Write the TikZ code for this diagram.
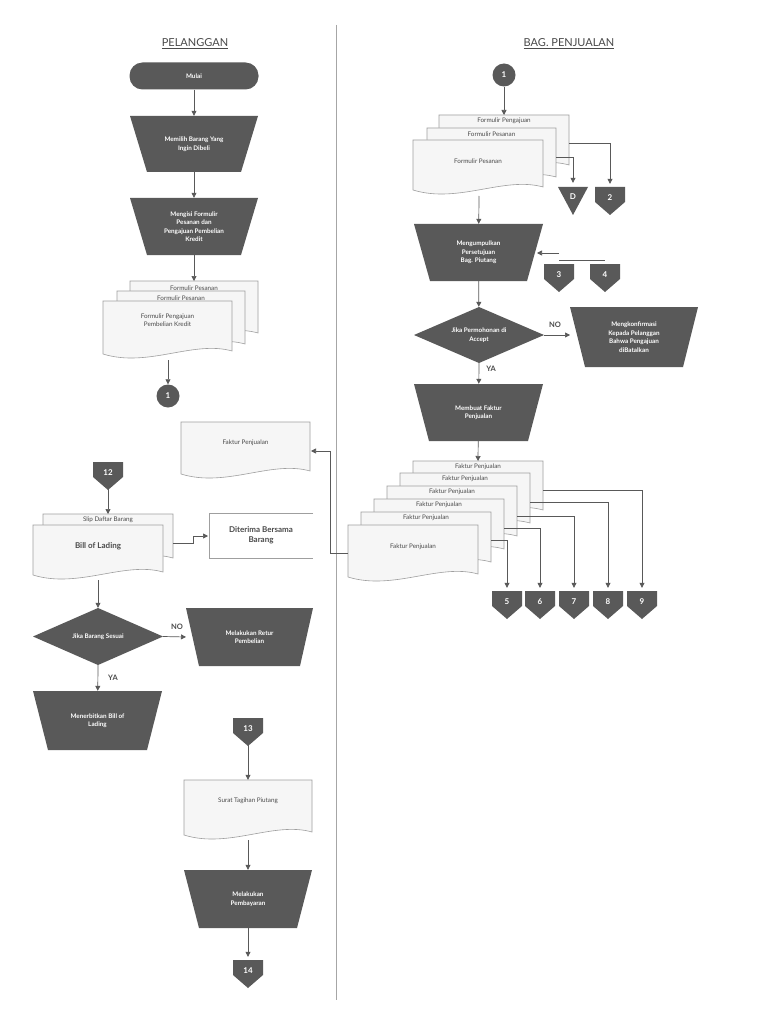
\documentclass[tikz,border=0pt]{standalone}
\usepackage{fontspec}
\setmainfont{Lato}
\usetikzlibrary{arrows.meta,calc}
\definecolor{dk}{HTML}{595959}
\definecolor{ln}{HTML}{595959}
\definecolor{tx}{HTML}{4A4A4A}
\newcommand\mydoc[7]{%
 \draw[docst] (#2,#3) -- (#4,#3) -- (#4,#5-3) .. controls ({#2+0.7*(#4-#2)},#5-14) and ({#2+0.35*(#4-#2)},#5+14) .. (#2,#5) -- cycle;
 \node[inner sep=0,minimum width={#4-#2},minimum height={#5-#3}] (#1) at ({(#2+#4)/2},{(#3+#5)/2}) {};
 \node[dt] at ({(#2+#4)/2},#3+#6) {#7};}
\newcommand\mytrap[7]{% name x1 y1 x2 y2 inset text
 \fill[shp] (#2,#3) -- (#4,#3) -- (#4-#6,#5) -- (#2+#6,#5) -- cycle;
 \node[wt,inner sep=0,minimum width={#4-#2},minimum height={#5-#3}] (#1) at ({(#2+#4)/2},{(#3+#5)/2}) {#7};}
\newcommand\mydia[6]{%
 \fill[shp] (#2,{(#3+#5)/2}) -- ({(#2+#4)/2},#3) -- (#4,{(#3+#5)/2}) -- ({(#2+#4)/2},#5) -- cycle;
 \node[wt,inner sep=0,minimum width={#4-#2},minimum height={#5-#3}] (#1) at ({(#2+#4)/2},{(#3+#5)/2}) {#6};}
\newcommand\myoff[4]{%
 \fill[shp] (#2-15,#3) -- (#2+15,#3) -- (#2+15,#3+15) -- (#2,#3+28) -- (#2-15,#3+15) -- cycle;
 \node[wt,font=\fontsize{8}{9}\selectfont\bfseries,inner sep=0,minimum width=30,minimum height=28,text depth=0pt,yshift=3] (#1) at (#2,#3+14) {#4};}
\newcommand\mytri[4]{%
 \fill[shp] (#2-15,#3) -- (#2+15,#3) -- (#2,#3+28) -- cycle;
 \node[wt,font=\fontsize{8}{9}\selectfont\bfseries,inner sep=0,minimum width=30,minimum height=28,yshift=4] (#1) at (#2,#3+14) {#4};}
\begin{document}
\begin{tikzpicture}[x=1pt,y=-1pt,
 arr/.style={draw=ln,line width=0.7pt,-{Triangle[length=5pt,width=5pt]}},
 ln/.style={draw=ln,line width=0.7pt},
 shp/.style={fill=dk},
 docst/.style={fill=gray!7,draw=gray!75,line width=0.6pt},
 wt/.style={text=white,font=\fontsize{6.3}{8.5}\selectfont\bfseries,align=center},
 dt/.style={text=tx,font=\fontsize{6.3}{8.5}\selectfont,align=center,inner sep=0},
 lab/.style={text=tx,font=\fontsize{7.5}{9}\selectfont\bfseries},
 ttl/.style={text=tx,font=\fontsize{11}{13}\selectfont}]
\useasboundingbox (0,0) rectangle (768,1024);
\fill[white] (0,0) rectangle (768,1024);
\draw[gray!70,line width=0.8pt] (336,25) -- (336,1000);
\node[ttl] (t1) at (195,44) {\underline{PELANGGAN}};
\node[ttl] (t2) at (569,44) {\underline{BAG. PENJUALAN}};

% ---- Pelanggan top
\node[wt,fill=dk,rounded corners=13pt,minimum width=129,minimum height=27,inner sep=0] (mulai) at (194,76) {Mulai};
\mytrap{a1}{130}{116}{258}{172}{17}{Memilih Barang Yang\\Ingin Dibeli}
\mytrap{a2}{130}{198}{258}{255}{17}{Mengisi Formulir\\Pesanan dan\\Pengajuan Pembelian\\Kredit}
\mydoc{d1a}{130}{281}{258}{336}{7}{Formulir Pesanan}
\mydoc{d1b}{117}{291}{245}{347}{7}{Formulir Pesanan}
\mydoc{d1c}{103}{301}{232}{354}{19}{Formulir Pengajuan\\Pembelian Kredit}
\node[circle,fill=dk,minimum size=23,inner sep=0,wt,font=\fontsize{8}{9}\selectfont\bfseries] (c1) at (168,396) {1};
\draw[arr] (mulai) -- (a1);
\draw[arr] (a1) -- (a2);
\draw[arr] (a2) -- (194,281);
\draw[arr] (168,360) -- (c1);

% ---- Penjualan top
\node[circle,fill=dk,minimum size=23,inner sep=0,wt,font=\fontsize{8}{9}\selectfont\bfseries] (c1b) at (504,75) {1};
\mydoc{d2a}{439}{115}{569}{168}{6}{Formulir Pengajuan}
\mydoc{d2b}{427}{128}{556}{180}{6}{Formulir Pesanan}
\mydoc{d2c}{413}{140}{543}{190}{21}{Formulir Pesanan}
\mytri{dD}{573}{187}{D}
\myoff{o2}{610}{187}{2}
\draw[arr] (c1b) -- (504,115);
\draw[arr] (556,157) -| (dD.north);
\draw[arr] (569,143) -| (o2.north);
\mytrap{b1}{414}{224}{543}{281}{16}{Mengumpulkan\\Persetujuan\\Bag. Piutang}
\draw[arr] (479,196) -- (b1);
\myoff{o3}{559}{264}{3}
\myoff{o4}{605}{264}{4}
\draw[ln] (o3.north) |- (o4.north);
\coordinate (j3) at (559,253);
\draw[arr] (j3) -- (537,253);
\mydia{q1}{414}{307}{544}{363}{Jika Permohonan di\\Accept}
\draw[arr] (b1) -- (q1);
\mytrap{b2}{570}{307}{698}{367}{15}{Mengkonfirmasi\\Kepada Pelanggan\\Bahwa Pengajuan\\diBatalkan}
\draw[arr] (q1.east) -- (570,335);
\node[lab] at (555,325) {NO};
\mytrap{b3}{414}{384}{543}{441}{15}{Membuat Faktur\\Penjualan}
\draw[arr] (q1.south) -- (b3);
\node[lab] at (491,369) {YA};

% ---- faktur stack
\mydoc{f1}{413}{461}{543}{513}{6}{Faktur Penjualan}
\mydoc{f2}{400}{473}{530}{526}{6}{Faktur Penjualan}
\mydoc{f3}{387}{486}{517}{539}{6}{Faktur Penjualan}
\mydoc{f4}{374}{499}{504}{552}{6}{Faktur Penjualan}
\mydoc{f5}{361}{512}{491}{565}{6}{Faktur Penjualan}
\mydoc{f6}{348}{525}{478}{577}{22}{Faktur Penjualan}
\draw[arr] (b3) -- (478,461);
\myoff{o5}{507}{591}{5}
\myoff{o6}{540}{591}{6}
\myoff{o7}{574}{591}{7}
\myoff{o8}{608}{591}{8}
\myoff{o9}{642}{591}{9}
\draw[arr] (543,490) -| (o9.north);
\draw[arr] (530,502) -| (o8.north);
\draw[arr] (517,516) -| (o7.north);
\draw[arr] (504,528) -| (o6.north);
\draw[arr] (491,540) -| (o5.north);

% ---- Faktur copy to pelanggan
\mydoc{fp}{181}{422}{310}{474}{21}{Faktur Penjualan}
\coordinate (k1) at (330,553);
\draw[arr] (348,553) -- (k1) |- (311,451);

% ---- Pelanggan middle
\myoff{o12}{108}{462}{12}
\mydoc{s1}{43}{514}{173}{561}{6}{Slip Daftar Barang}
\mydoc{s2}{33}{525}{163}{575}{21}{\fontsize{8}{10}\selectfont\bfseries Bill of Lading}
\draw[arr] (o12) -- (108,514);
\draw[gray!75,line width=0.6pt] (313,513) -- (209,513) -- (209,558) -- (313,558);
\node[lab,align=center,font=\fontsize{8}{10}\selectfont\bfseries,minimum width=104,minimum height=45,inner sep=0] (ann) at (261,535) {Diterima Bersama\\Barang};
\coordinate (k2) at (193,543);
\draw[arr] (173,543) -- (k2) |- (208,536);
\mydia{q2}{33}{608}{163}{665}{Jika Barang Sesuai}
\draw[arr] (98,580) -- (q2);
\mytrap{a3}{186}{608}{313}{666}{13}{Melakukan Retur\\Pembelian}
\draw[arr] (q2.east) -- (186,637);
\node[lab] at (177,627) {NO};
\mytrap{a4}{33}{691}{162}{750}{15}{Menerbitkan Bill of\\Lading}
\draw[arr] (q2.south) -- (a4);
\node[lab] at (113,678) {YA};

% ---- bottom
\myoff{o13}{248}{718}{13}
\mydoc{st}{184}{780}{312}{835}{21}{Surat Tagihan Piutang}
\draw[arr] (o13) -- (st);
\mytrap{a5}{184}{870}{312}{928}{15}{Melakukan\\Pembayaran}
\draw[arr] (248,840) -- (a5);
\myoff{o14}{248}{960}{14}
\draw[arr] (a5) -- (o14);
\end{tikzpicture}
\end{document}
